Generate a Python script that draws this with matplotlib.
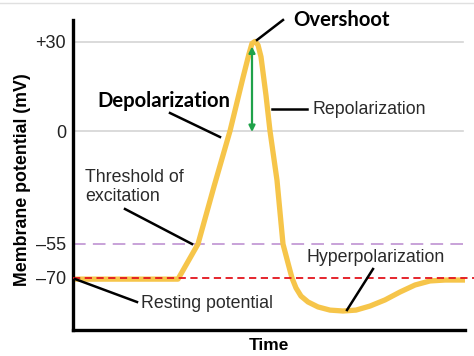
import numpy as np
import matplotlib.pyplot as plt
from matplotlib.lines import Line2D

# Action potential trace (time in arbitrary units, membrane potential in mV)
time = [0, 105, 125, 141, 157, 170, 176, 179, 182, 185, 188, 193, 197, 204, 210,
        215, 219, 223, 228, 235, 245, 257, 270, 283, 297, 312, 327, 342, 357,
        372, 392]
potential = [-70.5, -70.5, -55, -27, 0, 18, 26, 29.5, 30.2, 29, 25, 12, 0, -24, -55,
             -63.4, -70, -74.4, -78, -80.6, -82.8, -84.2, -84.6, -84.2, -82.4,
             -79.7, -76.2, -73.1, -71.3, -70.9, -70.9]

tick_values = [30, 0, -55, -70]
tick_labels = ['+30', '0', '\u201355', '\u201370']
threshold = -55
resting = -70
overshoot_arrow = (28.5, -0.5)

# schematic (non-linear) voltage axis: mV -> drawing height
mv_knots = [-93, -70, -55, 0, 30, 37.4]
vis_knots = [0, 52, 86, 199, 288, 310]

def forward(v):
    return np.interp(v, mv_knots, vis_knots)

def inverse(v):
    return np.interp(v, vis_knots, mv_knots)

W, H = 474, 356

def px(x, y):
    # image pixel -> figure fraction
    return x / W, 1 - y / H

plt.rcParams['font.family'] = ['Liberation Sans', 'DejaVu Sans']

fig = plt.figure(figsize=(W / 100, H / 100), dpi=100)
ax = fig.add_axes([73 / W, (H - 330) / H, 392 / W, 310 / H])
ax.set_yscale('function', functions=(forward, inverse))
ax.set_xlim(0, 392)
ax.set_ylim(mv_knots[0], mv_knots[-1])

# reference lines
for v in [30, 0]:
    ax.axhline(v, xmax=0.995, color='#d4d4d4', lw=1.2, zorder=1)
ax.axhline(threshold, xmax=0.995, color='#c49bd6', lw=1.3, dashes=(7, 4), zorder=1)
ax.axhline(resting, xmax=1.03, color='#e3141c', lw=1.3, dashes=(4, 2.5), zorder=3,
           clip_on=False)

# trace
ax.plot(time, potential, color='#f6c54a', lw=3.8, solid_joinstyle='round',
        solid_capstyle='round', zorder=2)

# overshoot amplitude arrow
ax.annotate('', xy=(179, overshoot_arrow[1]), xytext=(179, overshoot_arrow[0]),
            arrowprops=dict(arrowstyle='<|-|>', color='#1fa24a', lw=1.6,
                            mutation_scale=9, shrinkA=0, shrinkB=0))

ax.set_yticks(tick_values)
ax.set_yticklabels(tick_labels)
ax.set_xticks([])
ax.tick_params(axis='y', length=0, pad=5, labelsize=13, labelcolor='#222222')
for s in ['top', 'right']:
    ax.spines[s].set_visible(False)
ax.spines['left'].set_linewidth(2.4)
ax.spines['bottom'].set_linewidth(2.4)

ax.set_xlabel('Time', fontsize=12.5, fontweight='bold', labelpad=6)
ax.set_ylabel('Membrane potential (mV)', fontsize=12.8, fontweight='bold', labelpad=3.5)
ax.yaxis.label.set_y(0.484)

# callout labels and leader lines (image pixel positions)
def leader(x0, y0, x1, y1):
    (a, b), (c, d) = px(x0, y0), px(x1, y1)
    fig.add_artist(Line2D([a, c], [b, d], color='black', lw=1.8))

def label(x, y, s, bold=False, ha='left'):
    if bold:
        fig.text(*px(x, y), s, fontsize=14.6, fontweight='bold', ha=ha, va='center',
                 family=['Lato', 'DejaVu Sans'], color='black')
    else:
        fig.text(*px(x, y), s, fontsize=12.8, ha=ha, va='center', color='#2a2a2a',
                 linespacing=1.1)

label(97, 101, 'Depolarization', bold=True)
leader(170, 113, 220, 137)
label(293, 20, 'Overshoot', bold=True)
leader(283, 20, 257, 40)
label(312, 109, 'Repolarization')
leader(272, 109, 307, 109)
label(85, 187, 'Threshold of\nexcitation')
leader(125, 209, 192, 244)
label(141, 303, 'Resting potential')
leader(75, 279, 137, 302)
label(306, 257, 'Hyperpolarization')
leader(373, 269, 347, 310)

# thin frame line at the top of the image
fig.add_artist(Line2D([0, 1], [1 - 3 / H, 1 - 3 / H], color='#e0e0e0', lw=1))

fig.savefig('out.png', dpi=100)
